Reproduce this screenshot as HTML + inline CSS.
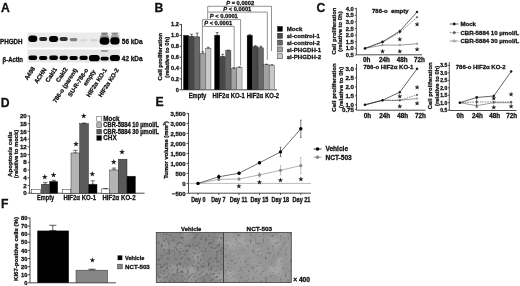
<!DOCTYPE html>
<html><head><meta charset="utf-8"><title>Figure</title>
<style>
html,body{margin:0;padding:0;background:#fff;}
body{width:520px;height:286px;overflow:hidden;}
svg{display:block;font-family:'Liberation Sans', sans-serif;}
</style></head><body>
<svg width="520" height="286" viewBox="0 0 520 286">
<defs>
<filter id="b1" color-interpolation-filters="sRGB" x="-5%" y="-20%" width="110%" height="140%"><feGaussianBlur stdDeviation="0.5"/></filter>
<filter id="b2" color-interpolation-filters="sRGB" x="-10%" y="-30%" width="120%" height="160%"><feGaussianBlur stdDeviation="0.7"/></filter>
<filter id="soft" color-interpolation-filters="sRGB" x="0" y="0" width="520" height="286" filterUnits="userSpaceOnUse"><feGaussianBlur stdDeviation="0.35"/></filter>
<filter id="noiseL" color-interpolation-filters="sRGB" x="0" y="0" width="100%" height="100%">
 <feTurbulence type="fractalNoise" baseFrequency="0.38" numOctaves="2" seed="4" result="n"/>
 <feColorMatrix in="n" type="matrix" values="0 0 0 0 0.3  0 0 0 0 0.3  0 0 0 0 0.3  -2.3 0 0 0 1.1" result="dark"/>
 <feTurbulence type="fractalNoise" baseFrequency="0.06" numOctaves="2" seed="11" result="lf"/>
 <feColorMatrix in="lf" type="matrix" values="0 0 0 0 1  0 0 0 0 1  0 0 0 0 1  0.6 0 0 0 -0.26" result="light"/>
 <feMerge><feMergeNode in="SourceGraphic"/><feMergeNode in="light"/><feMergeNode in="dark"/></feMerge>
 <feGaussianBlur stdDeviation="0.35"/>
 <feComposite operator="in" in2="SourceGraphic"/>
</filter>
<filter id="noiseR" color-interpolation-filters="sRGB" x="0" y="0" width="100%" height="100%">
 <feTurbulence type="fractalNoise" baseFrequency="0.40" numOctaves="2" seed="9" result="n"/>
 <feColorMatrix in="n" type="matrix" values="0 0 0 0 0.33  0 0 0 0 0.33  0 0 0 0 0.33  -2.3 0 0 0 0.96" result="dark"/>
 <feTurbulence type="fractalNoise" baseFrequency="0.08" numOctaves="2" seed="5" result="lf"/>
 <feColorMatrix in="lf" type="matrix" values="0 0 0 0 1  0 0 0 0 1  0 0 0 0 1  0.5 0 0 0 -0.22" result="light"/>
 <feMerge><feMergeNode in="SourceGraphic"/><feMergeNode in="light"/><feMergeNode in="dark"/></feMerge>
 <feGaussianBlur stdDeviation="0.35"/>
 <feComposite operator="in" in2="SourceGraphic"/>
</filter>
</defs>
<rect width="520" height="286" fill="#fff"/>
<g filter="url(#soft)">
<text x="0.90" y="11.90" font-size="12.2" text-anchor="start" font-weight="bold" fill="#111" stroke="#111" stroke-width="0.28" >A</text>
<g filter="url(#b1)">
<rect x="27.30" y="32.50" width="93.00" height="15.00" fill="#ebebeb" />
<rect x="27.30" y="49.50" width="93.00" height="12.90" fill="#e5e5e5" />
</g>
<g filter="url(#b2)">
<rect x="28.30" y="35.60" width="9.0" height="6.4" rx="3.20" fill="#000" opacity="1"/>
<rect x="39.20" y="37.00" width="8.0" height="4.0" rx="2.00" fill="#000" opacity="0.85"/>
<rect x="49.00" y="35.90" width="9.2" height="6" rx="3.00" fill="#000" opacity="1"/>
<rect x="59.60" y="36.90" width="8.2" height="4.2" rx="2.10" fill="#000" opacity="0.8"/>
<rect x="69.80" y="38.00" width="7.6" height="3.2" rx="1.60" fill="#000" opacity="0.45"/>
<rect x="80.00" y="39.05" width="7" height="2.5" rx="1.25" fill="#000" opacity="0.07"/>
<rect x="90.50" y="39.05" width="7" height="2.5" rx="1.25" fill="#000" opacity="0.09"/>
<rect x="99.80" y="33.50" width="9.4" height="10" rx="5.00" fill="#000" opacity="0.35"/>
<rect x="110.40" y="33.50" width="9" height="10" rx="5.00" fill="#000" opacity="0.3"/>
<rect x="99.60" y="37.20" width="9.8" height="7.6" rx="3.80" fill="#000" opacity="1"/>
<rect x="110.20" y="37.20" width="9.4" height="7.4" rx="3.70" fill="#000" opacity="1"/>
<rect x="101.00" y="32.60" width="7" height="1.6" rx="0.80" fill="#000" opacity="0.4"/>
<rect x="111.40" y="32.60" width="7" height="1.6" rx="0.80" fill="#000" opacity="0.35"/>
<rect x="101.00" y="50.25" width="7" height="1.5" rx="0.75" fill="#000" opacity="0.4"/>
<rect x="28.40" y="55.60" width="8.8" height="4.4" rx="2.20" fill="#000" opacity="1"/>
<rect x="39.00" y="56.00" width="8.4" height="4.0" rx="2.00" fill="#000" opacity="1"/>
<rect x="49.20" y="55.60" width="8.8" height="4.4" rx="2.20" fill="#000" opacity="1"/>
<rect x="59.40" y="55.70" width="8.6" height="4.2" rx="2.10" fill="#000" opacity="1"/>
<rect x="69.40" y="55.90" width="8.4" height="4.0" rx="2.00" fill="#000" opacity="1"/>
<rect x="79.40" y="55.85" width="8.4" height="4.1" rx="2.05" fill="#000" opacity="1"/>
<rect x="88.90" y="55.10" width="10.8" height="6.2" rx="3.10" fill="#000" opacity="1"/>
<rect x="100.50" y="56.80" width="8.2" height="3.8" rx="1.90" fill="#000" opacity="1"/>
<rect x="109.80" y="54.90" width="10.2" height="6.2" rx="3.10" fill="#000" opacity="1"/>
</g>
<text x="0.00" y="43.90" font-size="6.4" text-anchor="start" font-weight="bold" fill="#111" stroke="#111" stroke-width="0.28" textLength="22.50" lengthAdjust="spacingAndGlyphs" >PHGDH</text>
<text x="2.60" y="61.80" font-size="6.4" text-anchor="start" font-weight="bold" fill="#111" stroke="#111" stroke-width="0.28" textLength="20.40" lengthAdjust="spacingAndGlyphs" >β-Actin</text>
<text x="121.80" y="43.60" font-size="6.5" text-anchor="start" font-weight="bold" fill="#111" stroke="#111" stroke-width="0.28" textLength="20.80" lengthAdjust="spacingAndGlyphs" >56 kDa</text>
<text x="121.80" y="61.00" font-size="6.5" text-anchor="start" font-weight="bold" fill="#111" stroke="#111" stroke-width="0.28" textLength="20.80" lengthAdjust="spacingAndGlyphs" >42 kDa</text>
<text x="35.30" y="68.50" font-size="6.0" text-anchor="end" font-weight="bold" fill="#111" stroke="#111" stroke-width="0.28" transform="rotate(-57 35.30 68.50)" >A498</text>
<text x="46.80" y="69.50" font-size="6.0" text-anchor="end" font-weight="bold" fill="#111" stroke="#111" stroke-width="0.28" transform="rotate(-57 46.80 69.50)" >ACHN</text>
<text x="57.30" y="69.20" font-size="6.0" text-anchor="end" font-weight="bold" fill="#111" stroke="#111" stroke-width="0.28" transform="rotate(-57 57.30 69.20)" >Caki1</text>
<text x="67.80" y="69.20" font-size="6.0" text-anchor="end" font-weight="bold" fill="#111" stroke="#111" stroke-width="0.28" transform="rotate(-57 67.80 69.20)" >Caki2</text>
<text x="77.60" y="70.00" font-size="6.0" text-anchor="end" font-weight="bold" fill="#111" stroke="#111" stroke-width="0.28" transform="rotate(-57 77.60 70.00)" >786-o (parent)</text>
<text x="88.60" y="70.00" font-size="6.0" text-anchor="end" font-weight="bold" fill="#111" stroke="#111" stroke-width="0.28" transform="rotate(-57 88.60 70.00)" >SU-R-786-o</text>
<text x="95.80" y="71.50" font-size="6.0" text-anchor="end" font-weight="bold" fill="#111" stroke="#111" stroke-width="0.28" transform="rotate(-57 95.80 71.50)" >empty</text>
<text x="107.20" y="70.00" font-size="6.0" text-anchor="end" font-weight="bold" fill="#111" stroke="#111" stroke-width="0.28" transform="rotate(-57 107.20 70.00)" >HIF2α KO-1</text>
<text x="119.20" y="70.00" font-size="6.0" text-anchor="end" font-weight="bold" fill="#111" stroke="#111" stroke-width="0.28" transform="rotate(-57 119.20 70.00)" >HIF2α KO-2</text>
<text x="154.50" y="11.90" font-size="12.2" text-anchor="start" font-weight="bold" fill="#111" stroke="#111" stroke-width="0.28" >B</text>
<line x1="181.50" y1="24.00" x2="181.50" y2="89.80" stroke="#111" stroke-width="0.75"/>
<line x1="181.50" y1="89.80" x2="277.00" y2="89.80" stroke="#111" stroke-width="0.75"/>
<line x1="179.50" y1="89.80" x2="181.50" y2="89.80" stroke="#111" stroke-width="0.8"/>
<text x="178.90" y="91.80" font-size="5.6" text-anchor="end" font-weight="bold" fill="#111" stroke="#111" stroke-width="0.28" >0</text>
<line x1="179.50" y1="78.90" x2="181.50" y2="78.90" stroke="#111" stroke-width="0.8"/>
<text x="178.90" y="80.90" font-size="5.6" text-anchor="end" font-weight="bold" fill="#111" stroke="#111" stroke-width="0.28" >0.2</text>
<line x1="179.50" y1="68.00" x2="181.50" y2="68.00" stroke="#111" stroke-width="0.8"/>
<text x="178.90" y="70.00" font-size="5.6" text-anchor="end" font-weight="bold" fill="#111" stroke="#111" stroke-width="0.28" >0.4</text>
<line x1="179.50" y1="57.10" x2="181.50" y2="57.10" stroke="#111" stroke-width="0.8"/>
<text x="178.90" y="59.10" font-size="5.6" text-anchor="end" font-weight="bold" fill="#111" stroke="#111" stroke-width="0.28" >0.6</text>
<line x1="179.50" y1="46.20" x2="181.50" y2="46.20" stroke="#111" stroke-width="0.8"/>
<text x="178.90" y="48.20" font-size="5.6" text-anchor="end" font-weight="bold" fill="#111" stroke="#111" stroke-width="0.28" >0.8</text>
<line x1="179.50" y1="35.30" x2="181.50" y2="35.30" stroke="#111" stroke-width="0.8"/>
<text x="178.90" y="37.30" font-size="5.6" text-anchor="end" font-weight="bold" fill="#111" stroke="#111" stroke-width="0.28" >1.0</text>
<line x1="179.50" y1="24.40" x2="181.50" y2="24.40" stroke="#111" stroke-width="0.8"/>
<text x="178.90" y="26.40" font-size="5.6" text-anchor="end" font-weight="bold" fill="#111" stroke="#111" stroke-width="0.28" >1.2</text>
<rect x="183.40" y="35.30" width="5.35" height="54.50" fill="#000" stroke="#222" stroke-width="0.35" />
<line x1="191.63" y1="34.21" x2="191.63" y2="36.39" stroke="#111" stroke-width="0.6"/>
<line x1="190.23" y1="34.21" x2="193.03" y2="34.21" stroke="#111" stroke-width="0.6"/>
<line x1="190.23" y1="36.39" x2="193.03" y2="36.39" stroke="#111" stroke-width="0.6"/>
<rect x="188.95" y="36.39" width="5.35" height="53.41" fill="#484848" stroke="#222" stroke-width="0.35" />
<line x1="197.18" y1="33.12" x2="197.18" y2="36.93" stroke="#111" stroke-width="0.6"/>
<line x1="195.78" y1="33.12" x2="198.58" y2="33.12" stroke="#111" stroke-width="0.6"/>
<line x1="195.78" y1="36.93" x2="198.58" y2="36.93" stroke="#111" stroke-width="0.6"/>
<rect x="194.50" y="36.93" width="5.35" height="52.87" fill="#686868" stroke="#222" stroke-width="0.35" />
<line x1="202.73" y1="51.65" x2="202.73" y2="53.28" stroke="#111" stroke-width="0.6"/>
<line x1="201.33" y1="51.65" x2="204.13" y2="51.65" stroke="#111" stroke-width="0.6"/>
<line x1="201.33" y1="53.28" x2="204.13" y2="53.28" stroke="#111" stroke-width="0.6"/>
<rect x="200.05" y="53.28" width="5.35" height="36.52" fill="#a2a2a2" stroke="#222" stroke-width="0.35" />
<line x1="208.28" y1="47.29" x2="208.28" y2="48.38" stroke="#111" stroke-width="0.6"/>
<line x1="206.88" y1="47.29" x2="209.68" y2="47.29" stroke="#111" stroke-width="0.6"/>
<line x1="206.88" y1="48.38" x2="209.68" y2="48.38" stroke="#111" stroke-width="0.6"/>
<rect x="205.60" y="48.38" width="5.35" height="41.42" fill="#c8c8c8" stroke="#222" stroke-width="0.35" />
<line x1="217.18" y1="32.57" x2="217.18" y2="35.30" stroke="#111" stroke-width="0.6"/>
<line x1="215.78" y1="32.57" x2="218.58" y2="32.57" stroke="#111" stroke-width="0.6"/>
<line x1="215.78" y1="35.30" x2="218.58" y2="35.30" stroke="#111" stroke-width="0.6"/>
<rect x="214.50" y="35.30" width="5.35" height="54.50" fill="#000" stroke="#222" stroke-width="0.35" />
<line x1="222.73" y1="54.37" x2="222.73" y2="56.55" stroke="#111" stroke-width="0.6"/>
<line x1="221.33" y1="54.37" x2="224.13" y2="54.37" stroke="#111" stroke-width="0.6"/>
<line x1="221.33" y1="56.55" x2="224.13" y2="56.55" stroke="#111" stroke-width="0.6"/>
<rect x="220.05" y="56.55" width="5.35" height="33.24" fill="#484848" stroke="#222" stroke-width="0.35" />
<line x1="228.28" y1="50.02" x2="228.28" y2="50.56" stroke="#111" stroke-width="0.6"/>
<line x1="226.88" y1="50.02" x2="229.68" y2="50.02" stroke="#111" stroke-width="0.6"/>
<line x1="226.88" y1="50.56" x2="229.68" y2="50.56" stroke="#111" stroke-width="0.6"/>
<rect x="225.60" y="50.56" width="5.35" height="39.24" fill="#686868" stroke="#222" stroke-width="0.35" />
<line x1="233.83" y1="67.45" x2="233.83" y2="68.55" stroke="#111" stroke-width="0.6"/>
<line x1="232.43" y1="67.45" x2="235.23" y2="67.45" stroke="#111" stroke-width="0.6"/>
<line x1="232.43" y1="68.55" x2="235.23" y2="68.55" stroke="#111" stroke-width="0.6"/>
<rect x="231.15" y="68.55" width="5.35" height="21.25" fill="#a2a2a2" stroke="#222" stroke-width="0.35" />
<line x1="239.38" y1="66.91" x2="239.38" y2="67.45" stroke="#111" stroke-width="0.6"/>
<line x1="237.97" y1="66.91" x2="240.78" y2="66.91" stroke="#111" stroke-width="0.6"/>
<line x1="237.97" y1="67.45" x2="240.78" y2="67.45" stroke="#111" stroke-width="0.6"/>
<rect x="236.70" y="67.45" width="5.35" height="22.34" fill="#c8c8c8" stroke="#222" stroke-width="0.35" />
<line x1="249.78" y1="34.75" x2="249.78" y2="35.30" stroke="#111" stroke-width="0.6"/>
<line x1="248.38" y1="34.75" x2="251.18" y2="34.75" stroke="#111" stroke-width="0.6"/>
<line x1="248.38" y1="35.30" x2="251.18" y2="35.30" stroke="#111" stroke-width="0.6"/>
<rect x="247.10" y="35.30" width="5.35" height="54.50" fill="#000" stroke="#222" stroke-width="0.35" />
<line x1="255.33" y1="45.65" x2="255.33" y2="46.74" stroke="#111" stroke-width="0.6"/>
<line x1="253.93" y1="45.65" x2="256.73" y2="45.65" stroke="#111" stroke-width="0.6"/>
<line x1="253.93" y1="46.74" x2="256.73" y2="46.74" stroke="#111" stroke-width="0.6"/>
<rect x="252.65" y="46.74" width="5.35" height="43.05" fill="#484848" stroke="#222" stroke-width="0.35" />
<line x1="260.88" y1="46.20" x2="260.88" y2="47.83" stroke="#111" stroke-width="0.6"/>
<line x1="259.48" y1="46.20" x2="262.27" y2="46.20" stroke="#111" stroke-width="0.6"/>
<line x1="259.48" y1="47.83" x2="262.27" y2="47.83" stroke="#111" stroke-width="0.6"/>
<rect x="258.20" y="47.83" width="5.35" height="41.97" fill="#686868" stroke="#222" stroke-width="0.35" />
<line x1="266.42" y1="64.19" x2="266.42" y2="64.73" stroke="#111" stroke-width="0.6"/>
<line x1="265.02" y1="64.19" x2="267.82" y2="64.19" stroke="#111" stroke-width="0.6"/>
<line x1="265.02" y1="64.73" x2="267.82" y2="64.73" stroke="#111" stroke-width="0.6"/>
<rect x="263.75" y="64.73" width="5.35" height="25.07" fill="#a2a2a2" stroke="#222" stroke-width="0.35" />
<line x1="271.97" y1="64.73" x2="271.97" y2="65.27" stroke="#111" stroke-width="0.6"/>
<line x1="270.57" y1="64.73" x2="273.37" y2="64.73" stroke="#111" stroke-width="0.6"/>
<line x1="270.57" y1="65.27" x2="273.37" y2="65.27" stroke="#111" stroke-width="0.6"/>
<rect x="269.30" y="65.27" width="5.35" height="24.53" fill="#c8c8c8" stroke="#222" stroke-width="0.35" />
<text x="197.50" y="98.00" font-size="6.5" text-anchor="middle" font-weight="bold" fill="#111" stroke="#111" stroke-width="0.28" textLength="17.60" lengthAdjust="spacingAndGlyphs" >Empty</text>
<text x="228.70" y="98.00" font-size="6.5" text-anchor="middle" font-weight="bold" fill="#111" stroke="#111" stroke-width="0.28" textLength="32.40" lengthAdjust="spacingAndGlyphs" >HIF2α KO-1</text>
<text x="262.90" y="98.00" font-size="6.5" text-anchor="middle" font-weight="bold" fill="#111" stroke="#111" stroke-width="0.28" textLength="32.40" lengthAdjust="spacingAndGlyphs" >HIF2α KO-2</text>
<text x="162.00" y="56.60" font-size="6.0" text-anchor="middle" font-weight="bold" fill="#111" stroke="#111" stroke-width="0.28" transform="rotate(-90 162.00 56.60)" >Cell proliferation</text>
<text x="169.00" y="57.20" font-size="6.0" text-anchor="middle" font-weight="bold" fill="#111" stroke="#111" stroke-width="0.28" transform="rotate(-90 169.00 57.20)" >(relative to 0h)</text>
<polyline points="202.40,51.50 202.40,26.40 234.20,26.40 234.20,66.50" fill="none" stroke="#777" stroke-width="0.8"/>
<polyline points="202.40,26.40 202.40,19.60 240.60,19.60 240.60,65.50" fill="none" stroke="#777" stroke-width="0.8"/>
<polyline points="207.70,19.60 207.70,12.10 267.30,12.10 267.30,60.00" fill="none" stroke="#777" stroke-width="0.8"/>
<polyline points="207.70,12.10 207.70,6.30 271.50,6.30 271.50,51.00" fill="none" stroke="#777" stroke-width="0.8"/>
<text x="204.2" y="25.0" font-size="5.8" font-weight="bold" fill="#111" stroke="#111" stroke-width="0.28" textLength="28" lengthAdjust="spacingAndGlyphs"><tspan font-style="italic">P</tspan> &lt; 0.0001</text>
<text x="209.8" y="18.0" font-size="5.8" font-weight="bold" fill="#111" stroke="#111" stroke-width="0.28" textLength="28" lengthAdjust="spacingAndGlyphs"><tspan font-style="italic">P</tspan> &lt; 0.0001</text>
<text x="223.3" y="10.9" font-size="5.8" font-weight="bold" fill="#111" stroke="#111" stroke-width="0.28" textLength="28" lengthAdjust="spacingAndGlyphs"><tspan font-style="italic">P</tspan> &lt; 0.0001</text>
<text x="226.2" y="4.7" font-size="5.8" font-weight="bold" fill="#111" stroke="#111" stroke-width="0.28" textLength="28" lengthAdjust="spacingAndGlyphs"><tspan font-style="italic">P</tspan> = 0.0002</text>
<rect x="277.50" y="26.40" width="5.00" height="5.00" fill="#000" stroke="#222" stroke-width="0.45" />
<text x="286.70" y="31.10" font-size="6.1" text-anchor="start" font-weight="bold" fill="#111" stroke="#111" stroke-width="0.28" >Mock</text>
<rect x="277.50" y="33.25" width="5.00" height="5.00" fill="#484848" stroke="#222" stroke-width="0.45" />
<text x="286.70" y="37.95" font-size="6.1" text-anchor="start" font-weight="bold" fill="#111" stroke="#111" stroke-width="0.28" >si-control-1</text>
<rect x="277.50" y="40.10" width="5.00" height="5.00" fill="#686868" stroke="#222" stroke-width="0.45" />
<text x="286.70" y="44.80" font-size="6.1" text-anchor="start" font-weight="bold" fill="#111" stroke="#111" stroke-width="0.28" >si-control-2</text>
<rect x="277.50" y="46.95" width="5.00" height="5.00" fill="#a2a2a2" stroke="#222" stroke-width="0.45" />
<text x="286.70" y="51.65" font-size="6.1" text-anchor="start" font-weight="bold" fill="#111" stroke="#111" stroke-width="0.28" >si-PHGDH-1</text>
<rect x="277.50" y="53.80" width="5.00" height="5.00" fill="#c8c8c8" stroke="#222" stroke-width="0.45" />
<text x="286.70" y="58.50" font-size="6.1" text-anchor="start" font-weight="bold" fill="#111" stroke="#111" stroke-width="0.28" >si-PHGDH-2</text>
<text x="316.50" y="11.90" font-size="12.2" text-anchor="start" font-weight="bold" fill="#111" stroke="#111" stroke-width="0.28" >C</text>
<line x1="356.30" y1="7.80" x2="356.30" y2="54.80" stroke="#111" stroke-width="0.75"/>
<line x1="356.30" y1="54.80" x2="422.00" y2="54.80" stroke="#111" stroke-width="0.75"/>
<line x1="354.80" y1="55.03" x2="356.30" y2="55.03" stroke="#111" stroke-width="0.7"/>
<text x="353.80" y="57.12" font-size="5.8" text-anchor="end" font-weight="bold" fill="#111" stroke="#111" stroke-width="0.28" >0.5</text>
<line x1="354.80" y1="48.40" x2="356.30" y2="48.40" stroke="#111" stroke-width="0.7"/>
<text x="353.80" y="50.49" font-size="5.8" text-anchor="end" font-weight="bold" fill="#111" stroke="#111" stroke-width="0.28" >1.0</text>
<line x1="354.80" y1="41.77" x2="356.30" y2="41.77" stroke="#111" stroke-width="0.7"/>
<text x="353.80" y="43.86" font-size="5.8" text-anchor="end" font-weight="bold" fill="#111" stroke="#111" stroke-width="0.28" >1.5</text>
<line x1="354.80" y1="35.14" x2="356.30" y2="35.14" stroke="#111" stroke-width="0.7"/>
<text x="353.80" y="37.23" font-size="5.8" text-anchor="end" font-weight="bold" fill="#111" stroke="#111" stroke-width="0.28" >2.0</text>
<line x1="354.80" y1="28.51" x2="356.30" y2="28.51" stroke="#111" stroke-width="0.7"/>
<text x="353.80" y="30.60" font-size="5.8" text-anchor="end" font-weight="bold" fill="#111" stroke="#111" stroke-width="0.28" >2.5</text>
<line x1="354.80" y1="21.88" x2="356.30" y2="21.88" stroke="#111" stroke-width="0.7"/>
<text x="353.80" y="23.97" font-size="5.8" text-anchor="end" font-weight="bold" fill="#111" stroke="#111" stroke-width="0.28" >3.0</text>
<line x1="354.80" y1="15.25" x2="356.30" y2="15.25" stroke="#111" stroke-width="0.7"/>
<text x="353.80" y="17.34" font-size="5.8" text-anchor="end" font-weight="bold" fill="#111" stroke="#111" stroke-width="0.28" >3.5</text>
<line x1="354.80" y1="8.62" x2="356.30" y2="8.62" stroke="#111" stroke-width="0.7"/>
<text x="353.80" y="10.71" font-size="5.8" text-anchor="end" font-weight="bold" fill="#111" stroke="#111" stroke-width="0.28" >4.0</text>
<polyline points="365.00,48.40 382.50,45.09 399.80,45.09 417.00,43.76" fill="none" stroke="#666" stroke-width="0.65"/>
<circle cx="365.00" cy="48.40" r="0.8" fill="#ccc" stroke="#666" stroke-width="0.5"/>
<circle cx="382.50" cy="45.09" r="0.8" fill="#ccc" stroke="#666" stroke-width="0.5"/>
<circle cx="399.80" cy="45.09" r="0.8" fill="#ccc" stroke="#666" stroke-width="0.5"/>
<circle cx="417.00" cy="43.76" r="0.8" fill="#ccc" stroke="#666" stroke-width="0.5"/>
<polyline points="365.00,48.40 382.50,42.43 399.80,32.49 417.00,17.24" fill="none" stroke="#444" stroke-width="0.65" stroke-dasharray="1.5,1"/>
<circle cx="365.00" cy="48.40" r="0.8" fill="#666" stroke="#444" stroke-width="0.5"/>
<circle cx="382.50" cy="42.43" r="0.8" fill="#666" stroke="#444" stroke-width="0.5"/>
<circle cx="399.80" cy="32.49" r="0.8" fill="#666" stroke="#444" stroke-width="0.5"/>
<circle cx="417.00" cy="17.24" r="0.8" fill="#666" stroke="#444" stroke-width="0.5"/>
<polyline points="365.00,48.40 382.50,41.77 399.80,31.16 417.00,11.94" fill="none" stroke="#111" stroke-width="0.65"/>
<circle cx="365.00" cy="48.40" r="1.0" fill="#111" stroke="#111" stroke-width="0.5"/>
<circle cx="382.50" cy="41.77" r="1.0" fill="#111" stroke="#111" stroke-width="0.5"/>
<circle cx="399.80" cy="31.16" r="1.0" fill="#111" stroke="#111" stroke-width="0.5"/>
<circle cx="417.00" cy="11.94" r="1.0" fill="#111" stroke="#111" stroke-width="0.5"/>
<text x="366.70" y="61.60" font-size="6.3" text-anchor="middle" font-weight="bold" fill="#111" stroke="#111" stroke-width="0.28" >0h</text>
<text x="384.40" y="61.60" font-size="6.3" text-anchor="middle" font-weight="bold" fill="#111" stroke="#111" stroke-width="0.28" >24h</text>
<text x="402.30" y="61.60" font-size="6.3" text-anchor="middle" font-weight="bold" fill="#111" stroke="#111" stroke-width="0.28" >48h</text>
<text x="419.50" y="61.60" font-size="6.3" text-anchor="middle" font-weight="bold" fill="#111" stroke="#111" stroke-width="0.28" >72h</text>
<text x="390.30" y="13.20" font-size="6.2" text-anchor="middle" font-weight="bold" fill="#111" stroke="#111" stroke-width="0.28" textLength="36.50" lengthAdjust="spacingAndGlyphs" style="white-space:pre">786-o  empty</text>
<text x="335.50" y="31.00" font-size="5.9" text-anchor="middle" font-weight="bold" fill="#111" stroke="#111" stroke-width="0.28" transform="rotate(-90 335.50 31.00)" >Cell proliferation</text>
<text x="342.40" y="31.50" font-size="5.9" text-anchor="middle" font-weight="bold" fill="#111" stroke="#111" stroke-width="0.28" transform="rotate(-90 342.40 31.50)" >(relative to 0h)</text>
<text x="382.50" y="53.37" font-size="5.2" text-anchor="middle" font-weight="normal" fill="#111" stroke="#111" stroke-width="0.28" font-family="DejaVu Sans, sans-serif">★</text>
<text x="399.80" y="41.27" font-size="5.2" text-anchor="middle" font-weight="normal" fill="#111" stroke="#111" stroke-width="0.28" font-family="DejaVu Sans, sans-serif">★</text>
<text x="399.80" y="53.37" font-size="5.2" text-anchor="middle" font-weight="normal" fill="#111" stroke="#111" stroke-width="0.28" font-family="DejaVu Sans, sans-serif">★</text>
<text x="417.00" y="25.87" font-size="5.2" text-anchor="middle" font-weight="normal" fill="#111" stroke="#111" stroke-width="0.28" font-family="DejaVu Sans, sans-serif">★</text>
<text x="417.00" y="50.87" font-size="5.2" text-anchor="middle" font-weight="normal" fill="#111" stroke="#111" stroke-width="0.28" font-family="DejaVu Sans, sans-serif">★</text>
<line x1="356.50" y1="64.00" x2="356.50" y2="110.20" stroke="#111" stroke-width="0.75"/>
<line x1="356.50" y1="110.20" x2="425.50" y2="110.20" stroke="#111" stroke-width="0.75"/>
<line x1="355.00" y1="109.30" x2="356.50" y2="109.30" stroke="#111" stroke-width="0.7"/>
<text x="354.00" y="111.53" font-size="6.2" text-anchor="end" font-weight="bold" fill="#111" stroke="#111" stroke-width="0.28" >0.75</text>
<line x1="355.00" y1="104.80" x2="356.50" y2="104.80" stroke="#111" stroke-width="0.7"/>
<text x="354.00" y="107.03" font-size="6.2" text-anchor="end" font-weight="bold" fill="#111" stroke="#111" stroke-width="0.28" >1.0</text>
<line x1="355.00" y1="95.80" x2="356.50" y2="95.80" stroke="#111" stroke-width="0.7"/>
<text x="354.00" y="98.03" font-size="6.2" text-anchor="end" font-weight="bold" fill="#111" stroke="#111" stroke-width="0.28" >1.5</text>
<line x1="355.00" y1="86.80" x2="356.50" y2="86.80" stroke="#111" stroke-width="0.7"/>
<text x="354.00" y="89.03" font-size="6.2" text-anchor="end" font-weight="bold" fill="#111" stroke="#111" stroke-width="0.28" >2.0</text>
<line x1="355.00" y1="77.80" x2="356.50" y2="77.80" stroke="#111" stroke-width="0.7"/>
<text x="354.00" y="80.03" font-size="6.2" text-anchor="end" font-weight="bold" fill="#111" stroke="#111" stroke-width="0.28" >2.5</text>
<line x1="355.00" y1="68.80" x2="356.50" y2="68.80" stroke="#111" stroke-width="0.7"/>
<text x="354.00" y="71.03" font-size="6.2" text-anchor="end" font-weight="bold" fill="#111" stroke="#111" stroke-width="0.28" >3.0</text>
<polyline points="365.00,104.80 382.50,100.30 399.80,100.30 417.00,98.50" fill="none" stroke="#666" stroke-width="0.65"/>
<circle cx="365.00" cy="104.80" r="0.8" fill="#ccc" stroke="#666" stroke-width="0.5"/>
<circle cx="382.50" cy="100.30" r="0.8" fill="#ccc" stroke="#666" stroke-width="0.5"/>
<circle cx="399.80" cy="100.30" r="0.8" fill="#ccc" stroke="#666" stroke-width="0.5"/>
<circle cx="417.00" cy="98.50" r="0.8" fill="#ccc" stroke="#666" stroke-width="0.5"/>
<polyline points="365.00,104.80 382.50,100.30 399.80,100.30 417.00,94.90" fill="none" stroke="#444" stroke-width="0.65" stroke-dasharray="1.5,1"/>
<circle cx="365.00" cy="104.80" r="0.8" fill="#666" stroke="#444" stroke-width="0.5"/>
<circle cx="382.50" cy="100.30" r="0.8" fill="#666" stroke="#444" stroke-width="0.5"/>
<circle cx="399.80" cy="100.30" r="0.8" fill="#666" stroke="#444" stroke-width="0.5"/>
<circle cx="417.00" cy="94.90" r="0.8" fill="#666" stroke="#444" stroke-width="0.5"/>
<polyline points="365.00,104.80 382.50,100.30 399.80,92.20 417.00,68.80" fill="none" stroke="#111" stroke-width="0.65"/>
<circle cx="365.00" cy="104.80" r="1.0" fill="#111" stroke="#111" stroke-width="0.5"/>
<circle cx="382.50" cy="100.30" r="1.0" fill="#111" stroke="#111" stroke-width="0.5"/>
<circle cx="399.80" cy="92.20" r="1.0" fill="#111" stroke="#111" stroke-width="0.5"/>
<circle cx="417.00" cy="68.80" r="1.0" fill="#111" stroke="#111" stroke-width="0.5"/>
<text x="367.50" y="117.70" font-size="6.3" text-anchor="middle" font-weight="bold" fill="#111" stroke="#111" stroke-width="0.28" >0h</text>
<text x="384.80" y="117.70" font-size="6.3" text-anchor="middle" font-weight="bold" fill="#111" stroke="#111" stroke-width="0.28" >24h</text>
<text x="402.70" y="117.70" font-size="6.3" text-anchor="middle" font-weight="bold" fill="#111" stroke="#111" stroke-width="0.28" >48h</text>
<text x="420.40" y="117.70" font-size="6.3" text-anchor="middle" font-weight="bold" fill="#111" stroke="#111" stroke-width="0.28" >72h</text>
<text x="388.40" y="68.80" font-size="6.2" text-anchor="middle" font-weight="bold" fill="#111" stroke="#111" stroke-width="0.28" textLength="50.00" lengthAdjust="spacingAndGlyphs" style="white-space:pre">786-o HIF2α KO-1</text>
<text x="335.80" y="87.50" font-size="6.1" text-anchor="middle" font-weight="bold" fill="#111" stroke="#111" stroke-width="0.28" transform="rotate(-90 335.80 87.50)" >Cell proliferation</text>
<text x="342.70" y="87.50" font-size="6.1" text-anchor="middle" font-weight="bold" fill="#111" stroke="#111" stroke-width="0.28" transform="rotate(-90 342.70 87.50)" >(relative to 0h)</text>
<text x="399.80" y="97.87" font-size="5.2" text-anchor="middle" font-weight="normal" fill="#111" stroke="#111" stroke-width="0.28" font-family="DejaVu Sans, sans-serif">★</text>
<text x="399.80" y="107.67" font-size="5.2" text-anchor="middle" font-weight="normal" fill="#111" stroke="#111" stroke-width="0.28" font-family="DejaVu Sans, sans-serif">★</text>
<text x="417.00" y="88.87" font-size="5.2" text-anchor="middle" font-weight="normal" fill="#111" stroke="#111" stroke-width="0.28" font-family="DejaVu Sans, sans-serif">★</text>
<text x="417.00" y="104.57" font-size="5.2" text-anchor="middle" font-weight="normal" fill="#111" stroke="#111" stroke-width="0.28" font-family="DejaVu Sans, sans-serif">★</text>
<line x1="449.30" y1="62.00" x2="449.30" y2="110.50" stroke="#111" stroke-width="0.75"/>
<line x1="449.30" y1="110.50" x2="516.60" y2="110.50" stroke="#111" stroke-width="0.75"/>
<line x1="447.80" y1="110.15" x2="449.30" y2="110.15" stroke="#111" stroke-width="0.7"/>
<text x="447.30" y="111.95" font-size="5.0" text-anchor="end" font-weight="bold" fill="#111" stroke="#111" stroke-width="0.28" >0.5</text>
<line x1="447.80" y1="102.70" x2="449.30" y2="102.70" stroke="#111" stroke-width="0.7"/>
<text x="447.30" y="104.50" font-size="5.0" text-anchor="end" font-weight="bold" fill="#111" stroke="#111" stroke-width="0.28" >1.0</text>
<line x1="447.80" y1="95.25" x2="449.30" y2="95.25" stroke="#111" stroke-width="0.7"/>
<text x="447.30" y="97.05" font-size="5.0" text-anchor="end" font-weight="bold" fill="#111" stroke="#111" stroke-width="0.28" >1.5</text>
<line x1="447.80" y1="87.80" x2="449.30" y2="87.80" stroke="#111" stroke-width="0.7"/>
<text x="447.30" y="89.60" font-size="5.0" text-anchor="end" font-weight="bold" fill="#111" stroke="#111" stroke-width="0.28" >2.0</text>
<line x1="447.80" y1="80.35" x2="449.30" y2="80.35" stroke="#111" stroke-width="0.7"/>
<text x="447.30" y="82.15" font-size="5.0" text-anchor="end" font-weight="bold" fill="#111" stroke="#111" stroke-width="0.28" >2.5</text>
<line x1="447.80" y1="72.90" x2="449.30" y2="72.90" stroke="#111" stroke-width="0.7"/>
<text x="447.30" y="74.70" font-size="5.0" text-anchor="end" font-weight="bold" fill="#111" stroke="#111" stroke-width="0.28" >3.0</text>
<line x1="447.80" y1="65.45" x2="449.30" y2="65.45" stroke="#111" stroke-width="0.7"/>
<text x="447.30" y="67.25" font-size="5.0" text-anchor="end" font-weight="bold" fill="#111" stroke="#111" stroke-width="0.28" >3.5</text>
<polyline points="459.90,102.70 476.70,105.68 493.80,102.70 511.20,102.70" fill="none" stroke="#666" stroke-width="0.65"/>
<circle cx="459.90" cy="102.70" r="0.8" fill="#ccc" stroke="#666" stroke-width="0.5"/>
<circle cx="476.70" cy="105.68" r="0.8" fill="#ccc" stroke="#666" stroke-width="0.5"/>
<circle cx="493.80" cy="102.70" r="0.8" fill="#ccc" stroke="#666" stroke-width="0.5"/>
<circle cx="511.20" cy="102.70" r="0.8" fill="#ccc" stroke="#666" stroke-width="0.5"/>
<polyline points="459.90,102.70 476.70,101.95 493.80,101.95 511.20,101.95" fill="none" stroke="#444" stroke-width="0.65" stroke-dasharray="1.5,1"/>
<circle cx="459.90" cy="102.70" r="0.8" fill="#666" stroke="#444" stroke-width="0.5"/>
<circle cx="476.70" cy="101.95" r="0.8" fill="#666" stroke="#444" stroke-width="0.5"/>
<circle cx="493.80" cy="101.95" r="0.8" fill="#666" stroke="#444" stroke-width="0.5"/>
<circle cx="511.20" cy="101.95" r="0.8" fill="#666" stroke="#444" stroke-width="0.5"/>
<polyline points="459.90,102.70 476.70,97.48 493.80,96.00 511.20,71.41" fill="none" stroke="#111" stroke-width="0.65"/>
<circle cx="459.90" cy="102.70" r="1.0" fill="#111" stroke="#111" stroke-width="0.5"/>
<circle cx="476.70" cy="97.48" r="1.0" fill="#111" stroke="#111" stroke-width="0.5"/>
<circle cx="493.80" cy="96.00" r="1.0" fill="#111" stroke="#111" stroke-width="0.5"/>
<circle cx="511.20" cy="71.41" r="1.0" fill="#111" stroke="#111" stroke-width="0.5"/>
<line x1="476.70" y1="96.74" x2="476.70" y2="107.17" stroke="#111" stroke-width="0.6"/>
<line x1="475.50" y1="96.74" x2="477.90" y2="96.74" stroke="#111" stroke-width="0.6"/>
<line x1="475.50" y1="107.17" x2="477.90" y2="107.17" stroke="#111" stroke-width="0.6"/>
<text x="460.30" y="118.00" font-size="6.3" text-anchor="middle" font-weight="bold" fill="#111" stroke="#111" stroke-width="0.28" >0h</text>
<text x="477.50" y="118.00" font-size="6.3" text-anchor="middle" font-weight="bold" fill="#111" stroke="#111" stroke-width="0.28" >24h</text>
<text x="494.60" y="118.00" font-size="6.3" text-anchor="middle" font-weight="bold" fill="#111" stroke="#111" stroke-width="0.28" >48h</text>
<text x="511.70" y="118.00" font-size="6.3" text-anchor="middle" font-weight="bold" fill="#111" stroke="#111" stroke-width="0.28" >72h</text>
<text x="480.70" y="68.90" font-size="6.2" text-anchor="middle" font-weight="bold" fill="#111" stroke="#111" stroke-width="0.28" textLength="49.80" lengthAdjust="spacingAndGlyphs" style="white-space:pre">786-o HIF2α KO-2</text>
<text x="431.70" y="85.80" font-size="5.9" text-anchor="middle" font-weight="bold" fill="#111" stroke="#111" stroke-width="0.28" transform="rotate(-90 431.70 85.80)" >Cell proliferation</text>
<text x="438.60" y="85.80" font-size="5.9" text-anchor="middle" font-weight="bold" fill="#111" stroke="#111" stroke-width="0.28" transform="rotate(-90 438.60 85.80)" >(relative to 0h)</text>
<text x="493.80" y="100.37" font-size="5.2" text-anchor="middle" font-weight="normal" fill="#111" stroke="#111" stroke-width="0.28" font-family="DejaVu Sans, sans-serif">★</text>
<text x="493.80" y="108.67" font-size="5.2" text-anchor="middle" font-weight="normal" fill="#111" stroke="#111" stroke-width="0.28" font-family="DejaVu Sans, sans-serif">★</text>
<text x="511.20" y="95.87" font-size="5.2" text-anchor="middle" font-weight="normal" fill="#111" stroke="#111" stroke-width="0.28" font-family="DejaVu Sans, sans-serif">★</text>
<text x="511.20" y="107.77" font-size="5.2" text-anchor="middle" font-weight="normal" fill="#111" stroke="#111" stroke-width="0.28" font-family="DejaVu Sans, sans-serif">★</text>
<line x1="449.80" y1="24.00" x2="458.50" y2="24.00" stroke="#111" stroke-width="0.65"/>
<circle cx="454.20" cy="24.00" r="1.15" fill="#111" stroke="#111" stroke-width="0.5"/>
<text x="460.40" y="26.20" font-size="6.1" text-anchor="start" font-weight="bold" fill="#111" stroke="#111" stroke-width="0.28" >Mock</text>
<line x1="449.80" y1="32.70" x2="458.50" y2="32.70" stroke="#444" stroke-width="0.65" stroke-dasharray="1.5,1"/>
<circle cx="454.20" cy="32.70" r="1.15" fill="#666" stroke="#444" stroke-width="0.5"/>
<text x="460.40" y="34.90" font-size="6.1" text-anchor="start" font-weight="bold" fill="#111" stroke="#111" stroke-width="0.28" >CBR-5884 10 µmol/L</text>
<line x1="449.80" y1="41.00" x2="458.50" y2="41.00" stroke="#666" stroke-width="0.65"/>
<circle cx="454.20" cy="41.00" r="1.15" fill="#ddd" stroke="#666" stroke-width="0.5"/>
<text x="460.40" y="43.20" font-size="6.1" text-anchor="start" font-weight="bold" fill="#111" stroke="#111" stroke-width="0.28" >CBR-5884 30 µmol/L</text>
<text x="0.80" y="106.80" font-size="12.2" text-anchor="start" font-weight="bold" fill="#111" stroke="#111" stroke-width="0.28" >D</text>
<line x1="29.60" y1="115.50" x2="29.60" y2="193.20" stroke="#111" stroke-width="0.75"/>
<line x1="29.60" y1="193.20" x2="144.60" y2="193.20" stroke="#111" stroke-width="0.75"/>
<line x1="27.60" y1="193.20" x2="29.60" y2="193.20" stroke="#111" stroke-width="0.7"/>
<text x="26.80" y="195.40" font-size="6.2" text-anchor="end" font-weight="bold" fill="#111" stroke="#111" stroke-width="0.28" >0</text>
<line x1="27.60" y1="185.47" x2="29.60" y2="185.47" stroke="#111" stroke-width="0.7"/>
<text x="26.80" y="187.67" font-size="6.2" text-anchor="end" font-weight="bold" fill="#111" stroke="#111" stroke-width="0.28" >2</text>
<line x1="27.60" y1="177.74" x2="29.60" y2="177.74" stroke="#111" stroke-width="0.7"/>
<text x="26.80" y="179.94" font-size="6.2" text-anchor="end" font-weight="bold" fill="#111" stroke="#111" stroke-width="0.28" >4</text>
<line x1="27.60" y1="170.01" x2="29.60" y2="170.01" stroke="#111" stroke-width="0.7"/>
<text x="26.80" y="172.21" font-size="6.2" text-anchor="end" font-weight="bold" fill="#111" stroke="#111" stroke-width="0.28" >6</text>
<line x1="27.60" y1="162.28" x2="29.60" y2="162.28" stroke="#111" stroke-width="0.7"/>
<text x="26.80" y="164.48" font-size="6.2" text-anchor="end" font-weight="bold" fill="#111" stroke="#111" stroke-width="0.28" >8</text>
<line x1="27.60" y1="154.55" x2="29.60" y2="154.55" stroke="#111" stroke-width="0.7"/>
<text x="26.80" y="156.75" font-size="6.2" text-anchor="end" font-weight="bold" fill="#111" stroke="#111" stroke-width="0.28" >10</text>
<line x1="27.60" y1="146.82" x2="29.60" y2="146.82" stroke="#111" stroke-width="0.7"/>
<text x="26.80" y="149.02" font-size="6.2" text-anchor="end" font-weight="bold" fill="#111" stroke="#111" stroke-width="0.28" >12</text>
<line x1="27.60" y1="139.09" x2="29.60" y2="139.09" stroke="#111" stroke-width="0.7"/>
<text x="26.80" y="141.29" font-size="6.2" text-anchor="end" font-weight="bold" fill="#111" stroke="#111" stroke-width="0.28" >14</text>
<line x1="27.60" y1="131.36" x2="29.60" y2="131.36" stroke="#111" stroke-width="0.7"/>
<text x="26.80" y="133.56" font-size="6.2" text-anchor="end" font-weight="bold" fill="#111" stroke="#111" stroke-width="0.28" >16</text>
<line x1="27.60" y1="123.63" x2="29.60" y2="123.63" stroke="#111" stroke-width="0.7"/>
<text x="26.80" y="125.83" font-size="6.2" text-anchor="end" font-weight="bold" fill="#111" stroke="#111" stroke-width="0.28" >18</text>
<line x1="27.60" y1="115.90" x2="29.60" y2="115.90" stroke="#111" stroke-width="0.7"/>
<text x="26.80" y="118.10" font-size="6.2" text-anchor="end" font-weight="bold" fill="#111" stroke="#111" stroke-width="0.28" >20</text>
<rect x="31.70" y="189.33" width="8.70" height="3.87" fill="#fff" stroke="#222" stroke-width="0.45" />
<line x1="45.25" y1="182.38" x2="45.25" y2="184.31" stroke="#111" stroke-width="0.6"/>
<line x1="43.05" y1="182.38" x2="47.45" y2="182.38" stroke="#111" stroke-width="0.6"/>
<line x1="43.05" y1="184.31" x2="47.45" y2="184.31" stroke="#111" stroke-width="0.6"/>
<rect x="41.30" y="184.31" width="7.90" height="8.89" fill="#5a5a5a" stroke="#222" stroke-width="0.45" />
<line x1="53.65" y1="180.25" x2="53.65" y2="181.60" stroke="#111" stroke-width="0.6"/>
<line x1="51.45" y1="180.25" x2="55.85" y2="180.25" stroke="#111" stroke-width="0.6"/>
<line x1="51.45" y1="181.60" x2="55.85" y2="181.60" stroke="#111" stroke-width="0.6"/>
<rect x="49.60" y="181.60" width="8.10" height="11.60" fill="#000" stroke="#222" stroke-width="0.45" />
<rect x="62.30" y="189.33" width="8.50" height="3.87" fill="#fff" stroke="#222" stroke-width="0.45" />
<line x1="75.35" y1="150.30" x2="75.35" y2="153.00" stroke="#111" stroke-width="0.6"/>
<line x1="73.15" y1="150.30" x2="77.55" y2="150.30" stroke="#111" stroke-width="0.6"/>
<line x1="73.15" y1="153.00" x2="77.55" y2="153.00" stroke="#111" stroke-width="0.6"/>
<rect x="71.00" y="153.00" width="8.70" height="40.20" fill="#b4b4b4" stroke="#222" stroke-width="0.45" />
<line x1="84.10" y1="123.05" x2="84.10" y2="123.63" stroke="#111" stroke-width="0.6"/>
<line x1="81.90" y1="123.05" x2="86.30" y2="123.05" stroke="#111" stroke-width="0.6"/>
<line x1="81.90" y1="123.63" x2="86.30" y2="123.63" stroke="#111" stroke-width="0.6"/>
<rect x="79.70" y="123.63" width="8.80" height="69.57" fill="#5a5a5a" stroke="#222" stroke-width="0.45" />
<line x1="92.75" y1="180.83" x2="92.75" y2="184.31" stroke="#111" stroke-width="0.6"/>
<line x1="90.55" y1="180.83" x2="94.95" y2="180.83" stroke="#111" stroke-width="0.6"/>
<line x1="90.55" y1="184.31" x2="94.95" y2="184.31" stroke="#111" stroke-width="0.6"/>
<rect x="88.50" y="184.31" width="8.50" height="8.89" fill="#000" stroke="#222" stroke-width="0.45" />
<line x1="105.50" y1="188.56" x2="105.50" y2="188.95" stroke="#111" stroke-width="0.6"/>
<line x1="103.30" y1="188.56" x2="107.70" y2="188.56" stroke="#111" stroke-width="0.6"/>
<line x1="103.30" y1="188.95" x2="107.70" y2="188.95" stroke="#111" stroke-width="0.6"/>
<rect x="101.30" y="188.95" width="8.40" height="4.25" fill="#fff" stroke="#222" stroke-width="0.45" />
<line x1="114.00" y1="168.08" x2="114.00" y2="170.01" stroke="#111" stroke-width="0.6"/>
<line x1="111.80" y1="168.08" x2="116.20" y2="168.08" stroke="#111" stroke-width="0.6"/>
<line x1="111.80" y1="170.01" x2="116.20" y2="170.01" stroke="#111" stroke-width="0.6"/>
<rect x="109.70" y="170.01" width="8.60" height="23.19" fill="#b4b4b4" stroke="#222" stroke-width="0.45" />
<rect x="118.30" y="159.19" width="8.70" height="34.01" fill="#5a5a5a" stroke="#222" stroke-width="0.45" />
<rect x="127.00" y="176.19" width="8.40" height="17.01" fill="#000" stroke="#222" stroke-width="0.45" />
<text x="44.80" y="178.73" font-size="6.2" text-anchor="middle" font-weight="normal" fill="#111" stroke="#111" stroke-width="0.28" font-family="DejaVu Sans, sans-serif">★</text>
<text x="53.60" y="177.23" font-size="6.2" text-anchor="middle" font-weight="normal" fill="#111" stroke="#111" stroke-width="0.28" font-family="DejaVu Sans, sans-serif">★</text>
<text x="76.00" y="145.73" font-size="6.2" text-anchor="middle" font-weight="normal" fill="#111" stroke="#111" stroke-width="0.28" font-family="DejaVu Sans, sans-serif">★</text>
<text x="83.70" y="118.03" font-size="6.2" text-anchor="middle" font-weight="normal" fill="#111" stroke="#111" stroke-width="0.28" font-family="DejaVu Sans, sans-serif">★</text>
<text x="92.30" y="176.23" font-size="6.2" text-anchor="middle" font-weight="normal" fill="#111" stroke="#111" stroke-width="0.28" font-family="DejaVu Sans, sans-serif">★</text>
<text x="113.80" y="163.53" font-size="6.2" text-anchor="middle" font-weight="normal" fill="#111" stroke="#111" stroke-width="0.28" font-family="DejaVu Sans, sans-serif">★</text>
<text x="122.00" y="153.73" font-size="6.2" text-anchor="middle" font-weight="normal" fill="#111" stroke="#111" stroke-width="0.28" font-family="DejaVu Sans, sans-serif">★</text>
<text x="45.60" y="200.20" font-size="6.4" text-anchor="middle" font-weight="bold" fill="#111" stroke="#111" stroke-width="0.28" textLength="17.00" lengthAdjust="spacingAndGlyphs" >Empty</text>
<text x="79.70" y="200.20" font-size="6.3" text-anchor="middle" font-weight="bold" fill="#111" stroke="#111" stroke-width="0.28" textLength="32.60" lengthAdjust="spacingAndGlyphs" >HIF2α KO-1</text>
<text x="119.00" y="200.20" font-size="6.3" text-anchor="middle" font-weight="bold" fill="#111" stroke="#111" stroke-width="0.28" textLength="33.00" lengthAdjust="spacingAndGlyphs" >HIF2α KO-2</text>
<text x="11.90" y="154.20" font-size="6.15" text-anchor="middle" font-weight="bold" fill="#111" stroke="#111" stroke-width="0.28" transform="rotate(-90 11.90 154.20)" >Apoptosis cells</text>
<text x="18.40" y="154.00" font-size="5.85" text-anchor="middle" font-weight="bold" fill="#111" stroke="#111" stroke-width="0.28" transform="rotate(-90 18.40 154.00)" >(relative to mock)</text>
<rect x="96.80" y="116.40" width="4.80" height="4.80" fill="#fff" stroke="#333" stroke-width="0.45" />
<text x="103.30" y="121.05" font-size="6.3" text-anchor="start" font-weight="bold" fill="#111" stroke="#111" stroke-width="0.28" >Mock</text>
<rect x="96.80" y="122.80" width="4.80" height="4.80" fill="#b4b4b4" stroke="#333" stroke-width="0.45" />
<text x="103.30" y="127.45" font-size="6.3" text-anchor="start" font-weight="bold" fill="#111" stroke="#111" stroke-width="0.28" textLength="55.70" lengthAdjust="spacingAndGlyphs" >CBR-5884 10 µmol/L</text>
<rect x="96.80" y="129.20" width="4.80" height="4.80" fill="#5a5a5a" stroke="#333" stroke-width="0.45" />
<text x="103.30" y="133.85" font-size="6.3" text-anchor="start" font-weight="bold" fill="#111" stroke="#111" stroke-width="0.28" textLength="55.70" lengthAdjust="spacingAndGlyphs" >CBR-5884 30 µmol/L</text>
<rect x="96.80" y="135.60" width="4.80" height="4.80" fill="#000" stroke="#333" stroke-width="0.45" />
<text x="103.30" y="140.25" font-size="6.3" text-anchor="start" font-weight="bold" fill="#111" stroke="#111" stroke-width="0.28" >CHX</text>
<text x="155.40" y="106.40" font-size="12.2" text-anchor="start" font-weight="bold" fill="#111" stroke="#111" stroke-width="0.28" >E</text>
<line x1="188.50" y1="113.00" x2="188.50" y2="193.20" stroke="#111" stroke-width="0.75"/>
<line x1="188.50" y1="193.20" x2="311.00" y2="193.20" stroke="#111" stroke-width="0.75"/>
<line x1="188.50" y1="183.40" x2="311.00" y2="183.40" stroke="#bbb" stroke-width="1.0"/>
<line x1="186.50" y1="193.40" x2="188.50" y2="193.40" stroke="#111" stroke-width="0.7"/>
<text x="185.50" y="195.60" font-size="6.0" text-anchor="end" font-weight="bold" fill="#111" stroke="#111" stroke-width="0.28" >−500</text>
<line x1="186.50" y1="183.40" x2="188.50" y2="183.40" stroke="#111" stroke-width="0.7"/>
<text x="185.50" y="185.60" font-size="6.0" text-anchor="end" font-weight="bold" fill="#111" stroke="#111" stroke-width="0.28" >0</text>
<line x1="186.50" y1="173.40" x2="188.50" y2="173.40" stroke="#111" stroke-width="0.7"/>
<text x="185.50" y="175.60" font-size="6.0" text-anchor="end" font-weight="bold" fill="#111" stroke="#111" stroke-width="0.28" >500</text>
<line x1="186.50" y1="163.40" x2="188.50" y2="163.40" stroke="#111" stroke-width="0.7"/>
<text x="185.50" y="165.60" font-size="6.0" text-anchor="end" font-weight="bold" fill="#111" stroke="#111" stroke-width="0.28" >1,000</text>
<line x1="186.50" y1="153.40" x2="188.50" y2="153.40" stroke="#111" stroke-width="0.7"/>
<text x="185.50" y="155.60" font-size="6.0" text-anchor="end" font-weight="bold" fill="#111" stroke="#111" stroke-width="0.28" >1,500</text>
<line x1="186.50" y1="143.40" x2="188.50" y2="143.40" stroke="#111" stroke-width="0.7"/>
<text x="185.50" y="145.60" font-size="6.0" text-anchor="end" font-weight="bold" fill="#111" stroke="#111" stroke-width="0.28" >2,000</text>
<line x1="186.50" y1="133.40" x2="188.50" y2="133.40" stroke="#111" stroke-width="0.7"/>
<text x="185.50" y="135.60" font-size="6.0" text-anchor="end" font-weight="bold" fill="#111" stroke="#111" stroke-width="0.28" >2,500</text>
<line x1="186.50" y1="123.40" x2="188.50" y2="123.40" stroke="#111" stroke-width="0.7"/>
<text x="185.50" y="125.60" font-size="6.0" text-anchor="end" font-weight="bold" fill="#111" stroke="#111" stroke-width="0.28" >3,000</text>
<line x1="186.50" y1="113.40" x2="188.50" y2="113.40" stroke="#111" stroke-width="0.7"/>
<text x="185.50" y="115.60" font-size="6.0" text-anchor="end" font-weight="bold" fill="#111" stroke="#111" stroke-width="0.28" >3,500</text>
<line x1="198.00" y1="193.20" x2="198.00" y2="195.00" stroke="#111" stroke-width="0.7"/>
<line x1="218.80" y1="193.20" x2="218.80" y2="195.00" stroke="#111" stroke-width="0.7"/>
<line x1="239.00" y1="193.20" x2="239.00" y2="195.00" stroke="#111" stroke-width="0.7"/>
<line x1="259.50" y1="193.20" x2="259.50" y2="195.00" stroke="#111" stroke-width="0.7"/>
<line x1="280.50" y1="193.20" x2="280.50" y2="195.00" stroke="#111" stroke-width="0.7"/>
<line x1="300.80" y1="193.20" x2="300.80" y2="195.00" stroke="#111" stroke-width="0.7"/>
<line x1="218.80" y1="178.40" x2="218.80" y2="180.40" stroke="#999" stroke-width="0.6"/>
<line x1="218.00" y1="178.40" x2="219.60" y2="178.40" stroke="#999" stroke-width="0.6"/>
<line x1="218.00" y1="180.40" x2="219.60" y2="180.40" stroke="#999" stroke-width="0.6"/>
<line x1="239.00" y1="177.80" x2="239.00" y2="180.20" stroke="#999" stroke-width="0.6"/>
<line x1="238.20" y1="177.80" x2="239.80" y2="177.80" stroke="#999" stroke-width="0.6"/>
<line x1="238.20" y1="180.20" x2="239.80" y2="180.20" stroke="#999" stroke-width="0.6"/>
<line x1="259.50" y1="172.70" x2="259.50" y2="177.10" stroke="#999" stroke-width="0.6"/>
<line x1="258.70" y1="172.70" x2="260.30" y2="172.70" stroke="#999" stroke-width="0.6"/>
<line x1="258.70" y1="177.10" x2="260.30" y2="177.10" stroke="#999" stroke-width="0.6"/>
<line x1="280.50" y1="165.70" x2="280.50" y2="174.90" stroke="#999" stroke-width="0.6"/>
<line x1="279.70" y1="165.70" x2="281.30" y2="165.70" stroke="#999" stroke-width="0.6"/>
<line x1="279.70" y1="174.90" x2="281.30" y2="174.90" stroke="#999" stroke-width="0.6"/>
<line x1="300.80" y1="157.60" x2="300.80" y2="173.60" stroke="#999" stroke-width="0.6"/>
<line x1="300.00" y1="157.60" x2="301.60" y2="157.60" stroke="#999" stroke-width="0.6"/>
<line x1="300.00" y1="173.60" x2="301.60" y2="173.60" stroke="#999" stroke-width="0.6"/>
<polyline points="198.00,183.40 218.80,179.40 239.00,179.00 259.50,174.90 280.50,170.30 300.80,165.60" fill="none" stroke="#999" stroke-width="0.75"/>
<circle cx="198.00" cy="183.40" r="1.6" fill="#888"/>
<circle cx="218.80" cy="179.40" r="1.6" fill="#888"/>
<circle cx="239.00" cy="179.00" r="1.6" fill="#888"/>
<circle cx="259.50" cy="174.90" r="1.6" fill="#888"/>
<circle cx="280.50" cy="170.30" r="1.6" fill="#888"/>
<circle cx="300.80" cy="165.60" r="1.6" fill="#888"/>
<line x1="218.80" y1="175.00" x2="218.80" y2="178.60" stroke="#222" stroke-width="0.6"/>
<line x1="218.00" y1="175.00" x2="219.60" y2="175.00" stroke="#222" stroke-width="0.6"/>
<line x1="218.00" y1="178.60" x2="219.60" y2="178.60" stroke="#222" stroke-width="0.6"/>
<line x1="239.00" y1="172.00" x2="239.00" y2="174.40" stroke="#222" stroke-width="0.6"/>
<line x1="238.20" y1="172.00" x2="239.80" y2="172.00" stroke="#222" stroke-width="0.6"/>
<line x1="238.20" y1="174.40" x2="239.80" y2="174.40" stroke="#222" stroke-width="0.6"/>
<line x1="259.50" y1="161.60" x2="259.50" y2="164.00" stroke="#222" stroke-width="0.6"/>
<line x1="258.70" y1="161.60" x2="260.30" y2="161.60" stroke="#222" stroke-width="0.6"/>
<line x1="258.70" y1="164.00" x2="260.30" y2="164.00" stroke="#222" stroke-width="0.6"/>
<line x1="280.50" y1="147.30" x2="280.50" y2="156.50" stroke="#222" stroke-width="0.6"/>
<line x1="279.70" y1="147.30" x2="281.30" y2="147.30" stroke="#222" stroke-width="0.6"/>
<line x1="279.70" y1="156.50" x2="281.30" y2="156.50" stroke="#222" stroke-width="0.6"/>
<line x1="300.80" y1="120.20" x2="300.80" y2="137.40" stroke="#222" stroke-width="0.6"/>
<line x1="300.00" y1="120.20" x2="301.60" y2="120.20" stroke="#222" stroke-width="0.6"/>
<line x1="300.00" y1="137.40" x2="301.60" y2="137.40" stroke="#222" stroke-width="0.6"/>
<polyline points="198.00,183.40 218.80,176.80 239.00,173.20 259.50,162.80 280.50,151.90 300.80,128.80" fill="none" stroke="#333" stroke-width="0.7"/>
<circle cx="198.00" cy="183.40" r="1.7" fill="#000"/>
<circle cx="218.80" cy="176.80" r="1.7" fill="#000"/>
<circle cx="239.00" cy="173.20" r="1.7" fill="#000"/>
<circle cx="259.50" cy="162.80" r="1.7" fill="#000"/>
<circle cx="280.50" cy="151.90" r="1.7" fill="#000"/>
<circle cx="300.80" cy="128.80" r="1.7" fill="#000"/>
<text x="239.00" y="187.94" font-size="5.4" text-anchor="middle" font-weight="normal" fill="#111" stroke="#111" stroke-width="0.28" font-family="DejaVu Sans, sans-serif">★</text>
<text x="259.50" y="183.54" font-size="5.4" text-anchor="middle" font-weight="normal" fill="#111" stroke="#111" stroke-width="0.28" font-family="DejaVu Sans, sans-serif">★</text>
<text x="280.50" y="182.14" font-size="5.4" text-anchor="middle" font-weight="normal" fill="#111" stroke="#111" stroke-width="0.28" font-family="DejaVu Sans, sans-serif">★</text>
<text x="301.00" y="180.54" font-size="5.4" text-anchor="middle" font-weight="normal" fill="#111" stroke="#111" stroke-width="0.28" font-family="DejaVu Sans, sans-serif">★</text>
<text x="198.40" y="202.40" font-size="6.3" text-anchor="middle" font-weight="bold" fill="#111" stroke="#111" stroke-width="0.28" textLength="14.30" lengthAdjust="spacingAndGlyphs" >Day 0</text>
<text x="218.40" y="202.40" font-size="6.3" text-anchor="middle" font-weight="bold" fill="#111" stroke="#111" stroke-width="0.28" textLength="14.30" lengthAdjust="spacingAndGlyphs" >Day 7</text>
<text x="238.50" y="202.40" font-size="6.3" text-anchor="middle" font-weight="bold" fill="#111" stroke="#111" stroke-width="0.28" textLength="17.50" lengthAdjust="spacingAndGlyphs" >Day 11</text>
<text x="259.40" y="202.40" font-size="6.3" text-anchor="middle" font-weight="bold" fill="#111" stroke="#111" stroke-width="0.28" textLength="17.70" lengthAdjust="spacingAndGlyphs" >Day 15</text>
<text x="280.30" y="202.40" font-size="6.3" text-anchor="middle" font-weight="bold" fill="#111" stroke="#111" stroke-width="0.28" textLength="17.60" lengthAdjust="spacingAndGlyphs" >Day 18</text>
<text x="301.50" y="202.40" font-size="6.3" text-anchor="middle" font-weight="bold" fill="#111" stroke="#111" stroke-width="0.28" textLength="17.90" lengthAdjust="spacingAndGlyphs" >Day 21</text>
<text x="165.5" y="150" font-size="5.8" font-weight="bold" fill="#111" stroke="#111" stroke-width="0.28" text-anchor="middle" transform="rotate(-90 165.5 150)" dy="2.1">Tumor volume (mm<tspan font-size="4" dy="-2">3</tspan><tspan dy="2">)</tspan></text>
<line x1="313.50" y1="149.00" x2="321.50" y2="149.00" stroke="#000" stroke-width="0.75"/>
<circle cx="317.50" cy="149.00" r="1.8" fill="#000"/>
<text x="325.40" y="151.30" font-size="6.6" text-anchor="start" font-weight="bold" fill="#111" stroke="#111" stroke-width="0.28" >Vehicle</text>
<line x1="313.50" y1="157.20" x2="321.50" y2="157.20" stroke="#888" stroke-width="0.75"/>
<circle cx="317.50" cy="157.20" r="1.8" fill="#888"/>
<text x="325.40" y="159.50" font-size="6.6" text-anchor="start" font-weight="bold" fill="#111" stroke="#111" stroke-width="0.28" >NCT-503</text>
<text x="0.90" y="207.90" font-size="12.2" text-anchor="start" font-weight="bold" fill="#111" stroke="#111" stroke-width="0.28" >F</text>
<line x1="30.00" y1="217.50" x2="30.00" y2="282.80" stroke="#111" stroke-width="0.75"/>
<line x1="30.00" y1="282.80" x2="116.00" y2="282.80" stroke="#111" stroke-width="0.75"/>
<line x1="28.00" y1="282.80" x2="30.00" y2="282.80" stroke="#111" stroke-width="0.7"/>
<text x="27.40" y="284.90" font-size="5.8" text-anchor="end" font-weight="bold" fill="#111" stroke="#111" stroke-width="0.28" >0</text>
<line x1="28.00" y1="274.70" x2="30.00" y2="274.70" stroke="#111" stroke-width="0.7"/>
<text x="27.40" y="276.80" font-size="5.8" text-anchor="end" font-weight="bold" fill="#111" stroke="#111" stroke-width="0.28" >10</text>
<line x1="28.00" y1="266.60" x2="30.00" y2="266.60" stroke="#111" stroke-width="0.7"/>
<text x="27.40" y="268.70" font-size="5.8" text-anchor="end" font-weight="bold" fill="#111" stroke="#111" stroke-width="0.28" >20</text>
<line x1="28.00" y1="258.50" x2="30.00" y2="258.50" stroke="#111" stroke-width="0.7"/>
<text x="27.40" y="260.60" font-size="5.8" text-anchor="end" font-weight="bold" fill="#111" stroke="#111" stroke-width="0.28" >30</text>
<line x1="28.00" y1="250.40" x2="30.00" y2="250.40" stroke="#111" stroke-width="0.7"/>
<text x="27.40" y="252.50" font-size="5.8" text-anchor="end" font-weight="bold" fill="#111" stroke="#111" stroke-width="0.28" >40</text>
<line x1="28.00" y1="242.30" x2="30.00" y2="242.30" stroke="#111" stroke-width="0.7"/>
<text x="27.40" y="244.40" font-size="5.8" text-anchor="end" font-weight="bold" fill="#111" stroke="#111" stroke-width="0.28" >50</text>
<line x1="28.00" y1="234.20" x2="30.00" y2="234.20" stroke="#111" stroke-width="0.7"/>
<text x="27.40" y="236.30" font-size="5.8" text-anchor="end" font-weight="bold" fill="#111" stroke="#111" stroke-width="0.28" >60</text>
<line x1="28.00" y1="226.10" x2="30.00" y2="226.10" stroke="#111" stroke-width="0.7"/>
<text x="27.40" y="228.20" font-size="5.8" text-anchor="end" font-weight="bold" fill="#111" stroke="#111" stroke-width="0.28" >70</text>
<line x1="28.00" y1="218.00" x2="30.00" y2="218.00" stroke="#111" stroke-width="0.7"/>
<text x="27.40" y="220.10" font-size="5.8" text-anchor="end" font-weight="bold" fill="#111" stroke="#111" stroke-width="0.28" >80</text>
<line x1="52.80" y1="225.29" x2="52.80" y2="230.64" stroke="#111" stroke-width="0.7"/>
<line x1="49.20" y1="225.29" x2="56.40" y2="225.29" stroke="#111" stroke-width="0.7"/>
<line x1="49.20" y1="230.64" x2="56.40" y2="230.64" stroke="#111" stroke-width="0.7"/>
<rect x="37.30" y="230.64" width="31.50" height="52.16" fill="#000" />
<line x1="92.00" y1="269.19" x2="92.00" y2="270.16" stroke="#111" stroke-width="0.7"/>
<line x1="88.50" y1="269.19" x2="95.50" y2="269.19" stroke="#111" stroke-width="0.7"/>
<line x1="88.50" y1="270.16" x2="95.50" y2="270.16" stroke="#111" stroke-width="0.7"/>
<rect x="76.00" y="270.16" width="31.60" height="12.64" fill="#868686" stroke="#333" stroke-width="0.5" />
<text x="92.40" y="262.09" font-size="5.8" text-anchor="middle" font-weight="normal" fill="#111" stroke="#111" stroke-width="0.28" font-family="DejaVu Sans, sans-serif">★</text>
<text x="18.00" y="249.00" font-size="6.0" text-anchor="middle" font-weight="bold" fill="#111" stroke="#111" stroke-width="0.28" transform="rotate(-90 18.00 249.00)" textLength="64.00" lengthAdjust="spacingAndGlyphs" >Ki67-positive cells (%)</text>
<rect x="117.60" y="255.40" width="4.70" height="4.70" fill="#000" />
<rect x="117.60" y="264.20" width="4.70" height="4.70" fill="#868686" stroke="#333" stroke-width="0.5" />
<text x="125.00" y="259.90" font-size="6.1" text-anchor="start" font-weight="bold" fill="#111" stroke="#111" stroke-width="0.28" textLength="19.40" lengthAdjust="spacingAndGlyphs" >Vehicle</text>
<text x="125.00" y="268.70" font-size="6.1" text-anchor="start" font-weight="bold" fill="#111" stroke="#111" stroke-width="0.28" textLength="24.80" lengthAdjust="spacingAndGlyphs" >NCT-503</text>
<g filter="url(#noiseL)">
<rect x="156.30" y="232.50" width="67.20" height="50.00" fill="#878787" />
</g>
<g filter="url(#noiseR)">
<rect x="223.50" y="232.50" width="67.80" height="50.00" fill="#959595" />
</g>
<rect x="156.3" y="232.5" width="135" height="50" fill="none" stroke="#3a3a3a" stroke-width="0.8"/>
<line x1="223.50" y1="232.50" x2="223.50" y2="282.50" stroke="#222" stroke-width="0.8"/>
<text x="191.20" y="231.20" font-size="6.2" text-anchor="middle" font-weight="bold" fill="#111" stroke="#111" stroke-width="0.28" textLength="20.30" lengthAdjust="spacingAndGlyphs" >Vehicle</text>
<text x="259.30" y="231.20" font-size="6.2" text-anchor="middle" font-weight="bold" fill="#111" stroke="#111" stroke-width="0.28" textLength="25.50" lengthAdjust="spacingAndGlyphs" >NCT-503</text>
<text x="293.20" y="281.80" font-size="6.3" text-anchor="start" font-weight="bold" fill="#111" stroke="#111" stroke-width="0.28" textLength="16.80" lengthAdjust="spacingAndGlyphs" style="white-space:pre">× 400</text>
</g>
</svg>
</body></html>
